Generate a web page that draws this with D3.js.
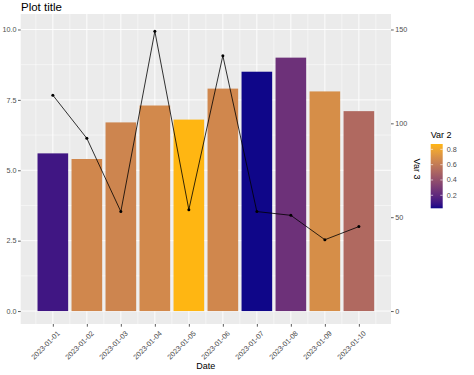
<!DOCTYPE html>
<html>
<head>
<meta charset="utf-8">
<script src="https://cdn.jsdelivr.net/npm/d3@7"></script>
<style>
  body { margin: 0; background: #fff; }
  text { font-family: "Liberation Sans", Arial, sans-serif; }
</style>
</head>
<body>
<svg id="chart" width="474" height="375"></svg>
<script>
// ---- data ----
const dates = ["2023-01-01","2023-01-02","2023-01-03","2023-01-04","2023-01-05",
               "2023-01-06","2023-01-07","2023-01-08","2023-01-09","2023-01-10"];
const var1 = [5.6, 5.4, 6.7, 7.3, 6.8, 7.9, 8.5, 9.0, 7.8, 7.1];
const var2 = [0.11, 0.66, 0.65, 0.67, 0.87, 0.66, 0.03, 0.25, 0.69, 0.52];
const var3 = [115, 92, 53, 149, 54, 136, 53, 51, 38, 45];
const leftTicks = [0, 2.5, 5, 7.5, 10];
const rightTicks = [0, 50, 100, 150];
const legendTicks = [0.2, 0.4, 0.6, 0.8];
const lowColor = "#0F0689", highColor = "#FFB612";
const secFactor = 15;

// ---- layout ----
const svg = d3.select("#chart");
const P = {left: 20.7, right: 391, top: 14, bottom: 324};
const DAY = 864e5;
const parse = d3.utcParse("%Y-%m-%d");
const dd = dates.map(parse);

const x = d3.scaleUtc()
  .domain([new Date(+dd[0] - 0.945 * DAY), new Date(+dd[dd.length - 1] + 0.945 * DAY)])
  .range([P.left, P.right]);
const y = d3.scaleLinear().domain([-0.46, 10.55]).range([P.bottom, P.top]);
const y2 = y.copy().domain(y.domain().map(v => v * secFactor));
const color = d3.scaleLinear().domain(d3.extent(var2)).range([lowColor, highColor])
  .interpolate(d3.interpolateLab);

// panel
svg.append("rect").attr("x", P.left).attr("y", P.top)
  .attr("width", P.right - P.left).attr("height", P.bottom - P.top).attr("fill", "#EBEBEB");

// grid
const g = svg.append("g");
const minorY = [1.25, 3.75, 6.25, 8.75];
minorY.forEach(v => g.append("line").attr("x1", P.left).attr("x2", P.right)
  .attr("y1", y(v)).attr("y2", y(v)).attr("stroke", "#fff").attr("stroke-width", 0.5));
const minorX = d3.range(-1, dd.length).map(i => new Date(+dd[0] + (i + 0.5) * DAY));
minorX.forEach(v => g.append("line").attr("y1", P.top).attr("y2", P.bottom)
  .attr("x1", x(v)).attr("x2", x(v)).attr("stroke", "#fff").attr("stroke-width", 0.5));
leftTicks.forEach(v => g.append("line").attr("x1", P.left).attr("x2", P.right)
  .attr("y1", y(v)).attr("y2", y(v)).attr("stroke", "#fff").attr("stroke-width", 0.9));
dd.forEach(v => g.append("line").attr("y1", P.top).attr("y2", P.bottom)
  .attr("x1", x(v)).attr("x2", x(v)).attr("stroke", "#fff").attr("stroke-width", 0.9));

// bars
svg.append("g").selectAll("rect").data(dd).join("rect")
  .attr("x", (d) => x(new Date(+d - 0.45 * DAY)))
  .attr("width", (d) => x(new Date(+d + 0.45 * DAY)) - x(new Date(+d - 0.45 * DAY)))
  .attr("y", (d, i) => y(var1[i]))
  .attr("height", (d, i) => y(0) - y(var1[i]))
  .attr("fill", (d, i) => color(var2[i]));

// line + points
const line = d3.line().x((d, i) => x(dd[i])).y(d => y2(d));
svg.append("path").datum(var3).attr("d", line).attr("fill", "none")
  .attr("stroke", "#000").attr("stroke-width", 0.8);
svg.append("g").selectAll("circle").data(var3).join("circle")
  .attr("cx", (d, i) => x(dd[i])).attr("cy", d => y2(d)).attr("r", 1.5).attr("fill", "#000");

// axes
function styleAxis(sel) {
  sel.select(".domain").remove();
  sel.selectAll(".tick line").attr("stroke", "#333").attr("stroke-width", 0.8);
  sel.selectAll(".tick text").attr("fill", "#4D4D4D").style("font-size", "7.2px");
}
const ax = svg.append("g").attr("transform", `translate(0,${P.bottom})`)
  .call(d3.axisBottom(x).tickValues(dd).tickFormat(d3.utcFormat("%Y-%m-%d")).tickSize(2.7).tickPadding(2))
  .call(styleAxis);
ax.selectAll(".tick text")
  .attr("text-anchor", "end").attr("dy", null)
  .attr("transform", "translate(3,6) rotate(-45)")
  .attr("y", 0).attr("x", 0).attr("dominant-baseline", "hanging");

svg.append("g").attr("transform", `translate(${P.left},0)`)
  .call(d3.axisLeft(y).tickValues(leftTicks).tickFormat(d3.format(".1f")).tickSize(2.7).tickPadding(1.5))
  .call(styleAxis);
svg.append("g").attr("transform", `translate(${P.right},0)`)
  .call(d3.axisRight(y2).tickValues(rightTicks).tickFormat(d3.format("d")).tickSize(2.7).tickPadding(1.5))
  .call(styleAxis);

// titles
svg.append("text").attr("x", 21).attr("y", 10.5).text("Plot title")
  .style("font-size", "11.5px").attr("fill", "#000");
svg.append("text").attr("x", (P.left + P.right) / 2).attr("y", 369).attr("text-anchor", "middle")
  .text("Date").style("font-size", "9px").attr("fill", "#000");
svg.append("text").attr("transform", `translate(414,${(P.top + P.bottom) / 2}) rotate(90)`)
  .attr("text-anchor", "middle").text("Var 3").style("font-size", "9px").attr("fill", "#000");

// legend
const L = {x: 430.7, w: 12, top: 144, bottom: 208.3};
const ly = d3.scaleLinear().domain(d3.extent(var2)).range([L.bottom, L.top]);
const defs = svg.append("defs");
const grad = defs.append("linearGradient").attr("id", "lg").attr("x1", 0).attr("x2", 0).attr("y1", 1).attr("y2", 0);
d3.range(0, 1.0001, 0.05).forEach(t => {
  const v = ly.domain()[0] + t * (ly.domain()[1] - ly.domain()[0]);
  grad.append("stop").attr("offset", t).attr("stop-color", color(v));
});
svg.append("text").attr("x", L.x).attr("y", 138).text("Var 2").style("font-size", "9px").attr("fill", "#000");
svg.append("rect").attr("x", L.x).attr("y", L.top).attr("width", L.w).attr("height", L.bottom - L.top)
  .attr("fill", "url(#lg)");
legendTicks.forEach(v => {
  svg.append("line").attr("x1", L.x).attr("x2", L.x + 2.4).attr("y1", ly(v)).attr("y2", ly(v))
    .attr("stroke", "#fff").attr("stroke-width", 0.6);
  svg.append("line").attr("x1", L.x + L.w - 2.4).attr("x2", L.x + L.w).attr("y1", ly(v)).attr("y2", ly(v))
    .attr("stroke", "#fff").attr("stroke-width", 0.6);
  svg.append("text").attr("x", L.x + L.w + 4).attr("y", ly(v)).attr("dy", "0.35em")
    .text(d3.format(".1f")(v)).style("font-size", "7.2px").attr("fill", "#4D4D4D");
});
</script>
</body>
</html>
